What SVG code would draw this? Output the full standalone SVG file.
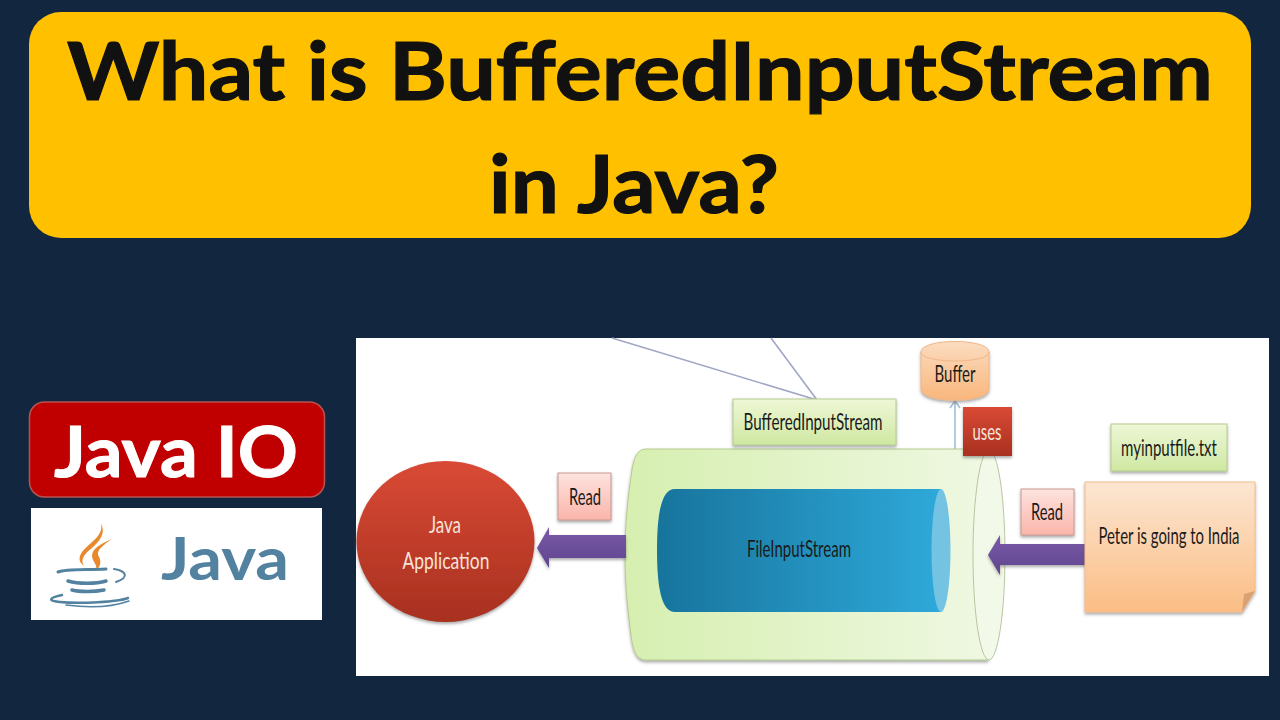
<svg xmlns="http://www.w3.org/2000/svg" width="1280" height="720" viewBox="0 0 1280 720">
<style>
.t{font-family:"Lato","Liberation Sans",sans-serif}
.title{font-size:80px;font-weight:700;fill:#111;text-anchor:middle;stroke:#111;stroke-width:1.2}
.lab{font-size:24px;fill:#1a1a1a;text-anchor:middle}
.w{fill:#f6e3dc}
.shadow{filter:url(#sh)}
</style>
<defs>
<filter id="sh" x="-10%" y="-10%" width="120%" height="125%"><feDropShadow dx="0" dy="2" stdDeviation="1.5" flood-color="#555" flood-opacity=".5"/></filter>
<linearGradient id="green" x1="0" y1="0" x2="0" y2="1"><stop offset="0" stop-color="#eef7d6"/><stop offset="1" stop-color="#cfe8a2"/></linearGradient>
<linearGradient id="tube" x1="0" y1="0" x2="1" y2="0"><stop offset="0" stop-color="#d6efb0"/><stop offset="1" stop-color="#eff8e2"/></linearGradient>
<linearGradient id="pink" x1="0" y1="0" x2="0" y2="1"><stop offset="0" stop-color="#fde3de"/><stop offset="1" stop-color="#fbb5ab"/></linearGradient>
<linearGradient id="orange" x1="0" y1="0" x2="0" y2="1"><stop offset="0" stop-color="#fce6d2"/><stop offset="1" stop-color="#fbbd84"/></linearGradient>
<linearGradient id="redg" x1="0" y1="0" x2="0" y2="1"><stop offset="0" stop-color="#d94a35"/><stop offset="1" stop-color="#a8301f"/></linearGradient>
<linearGradient id="blue" x1="0" y1="0" x2="1" y2="0"><stop offset="0" stop-color="#17749c"/><stop offset="1" stop-color="#2ea9da"/></linearGradient>
<linearGradient id="purple" x1="0" y1="0" x2="0" y2="1"><stop offset="0" stop-color="#7a5aa6"/><stop offset="1" stop-color="#5f4590"/></linearGradient>
<linearGradient id="bufg" x1="0" y1="0" x2="0" y2="1"><stop offset="0" stop-color="#fbdcc0"/><stop offset="1" stop-color="#f9b67c"/></linearGradient>
</defs>
<rect width="1280" height="720" fill="#12263f"/>

<g id="title">
<rect x="29" y="12" width="1222" height="226" rx="32" fill="#ffc000"/>
<text class="t title" x="640" y="100" textLength="1146" lengthAdjust="spacingAndGlyphs">What is BufferedInputStream</text>
<text class="t title" x="634" y="213" textLength="290" lengthAdjust="spacingAndGlyphs">in Java?</text>
</g>

<g id="java-io">
<rect x="29.500" y="402" width="295" height="95" rx="15" fill="#c00000" stroke="#b85450" stroke-width="1.500"/>
<text class="t" x="176" y="477" font-size="70" font-weight="700" fill="#fff" stroke="#fff" stroke-width="1" text-anchor="middle" textLength="244" lengthAdjust="spacingAndGlyphs">Java IO</text>
</g>

<g id="java-logo">
<rect x="31" y="508" width="291" height="112" fill="#fff"/>
<path d="M101 523C104 536 90 542 82 552C78 558 79 562 84 566C80 560 84 554 92 548C100 541 106 533 101 523Z" fill="#e8892b"/>
<path d="M112 539C100 544 92 549 92 556C92 561 98 565 96 570C103 565 100 558 98 555C97 550 103 545 112 539Z" fill="#e8892b"/>
<g fill="none" stroke="#5382a1" stroke-linecap="round">
<path d="M58 572C66 569 82 570 106 569" stroke-width="3"/>
<path d="M114 569C126 571 130 577 116 582" stroke-width="2"/>
<path d="M68 581C78 584 96 584 106 581" stroke-width="3.500"/>
<path d="M72 590C80 592 94 592 104 590" stroke-width="3.500"/>
<path d="M62 595C48 598 48 601 60 602C80 604 118 602 128 598" stroke-width="2.500"/>
<path d="M66 605C88 608 112 607 129 601" stroke-width="1.500"/>
</g>
<text x="225" y="580" font-family="Lato,'Liberation Sans',sans-serif" font-size="60" font-weight="700" fill="#5382a1" text-anchor="middle" textLength="128" lengthAdjust="spacingAndGlyphs">Java</text>
</g>

<rect id="panel" x="356" y="338" width="913" height="338" fill="#fff"/>

<g id="tube-node">
<path d="M646 449H988V660H646C636 660 633 650 631 635C627 605 625 580 625 555C625 525 628 495 632 470C634 456 638 449 646 449Z" fill="url(#tube)" stroke="#b5cc8e" stroke-width="1" class="shadow"/>
<ellipse cx="989" cy="555" rx="16" ry="105" fill="#f3f9e8" stroke="#b9c5a0" stroke-width="1"/>
</g>

<g id="connectors">
<g fill="none" stroke="#a0a6c4" stroke-width="1.600">
<path d="M612 338L817 400"/>
<path d="M771 338L817 400"/>
</g>
<path d="M955 449V401M950 408L955 401L960 408" fill="none" stroke="#a3bdd8" stroke-width="1.600"/>
<path d="M537 548L549 527V535H626V558H549V568Z" fill="url(#purple)" class="shadow"/>
<path d="M988 555L1000 535V544H1086V565H1000V575Z" fill="url(#purple)" class="shadow"/>
</g>

<g id="filestream">
<path d="M675 489H941V612H675C662 612 657 590 657 550C657 511 662 489 675 489Z" fill="url(#blue)"/>
<ellipse cx="941" cy="550.500" rx="9.500" ry="61.500" fill="#74c3e3"/>
<text class="t lab" x="799" y="557" textLength="104" lengthAdjust="spacingAndGlyphs">FileInputStream</text>
</g>

<g id="bufferedinputstream">
<rect x="733" y="399" width="163" height="46" fill="url(#green)" stroke="#b5cc8e" class="shadow"/>
<text class="t lab" x="813" y="430" textLength="139" lengthAdjust="spacingAndGlyphs">BufferedInputStream</text>
</g>

<g id="buffer">
<path d="M921 352C921 338 989 338 989 352V389C989 404 921 404 921 389Z" fill="url(#bufg)" stroke="#f0b787" class="shadow"/>
<path d="M921 352C921 364 989 364 989 352" fill="none" stroke="#f0b787"/>
<text class="t lab" x="955" y="382" textLength="41" lengthAdjust="spacingAndGlyphs">Buffer</text>
</g>

<g id="uses">
<rect x="963" y="407" width="49" height="49" fill="url(#redg)" class="shadow"/>
<text class="t lab" x="987" y="440" style="fill:#f6e3dc" textLength="29" lengthAdjust="spacingAndGlyphs">uses</text>
</g>

<g id="read-left">
<rect x="558" y="473" width="53" height="47" fill="url(#pink)" stroke="#c99a94" class="shadow"/>
<text class="t lab" x="585" y="505" textLength="32" lengthAdjust="spacingAndGlyphs">Read</text>
</g>

<g id="read-right">
<rect x="1021" y="489" width="53" height="46" fill="url(#pink)" stroke="#c99a94" class="shadow"/>
<text class="t lab" x="1047" y="520" textLength="32" lengthAdjust="spacingAndGlyphs">Read</text>
</g>

<g id="myinputfile">
<rect x="1111" y="424" width="116" height="47" fill="url(#green)" stroke="#b5cc8e" class="shadow"/>
<text class="t lab" x="1169" y="456" textLength="96" lengthAdjust="spacingAndGlyphs">myinputfile.txt</text>
</g>

<g id="file-note">
<path d="M1085 482H1255V591L1242 612H1085Z" fill="url(#orange)" stroke="#f2bd8b" class="shadow"/>
<path d="M1255 591L1244 594L1242 612Z" fill="#d9a272"/>
<text class="t lab" x="1169" y="544" textLength="141" lengthAdjust="spacingAndGlyphs">Peter is going to India</text>
</g>

<g id="java-app">
<ellipse cx="445.500" cy="541.500" rx="89" ry="80.500" fill="url(#redg)" class="shadow"/>
<text class="t lab w" x="445" y="533" textLength="32" lengthAdjust="spacingAndGlyphs">Java</text>
<text class="t lab w" x="446" y="569" textLength="87" lengthAdjust="spacingAndGlyphs">Application</text>
</g>
</svg>
